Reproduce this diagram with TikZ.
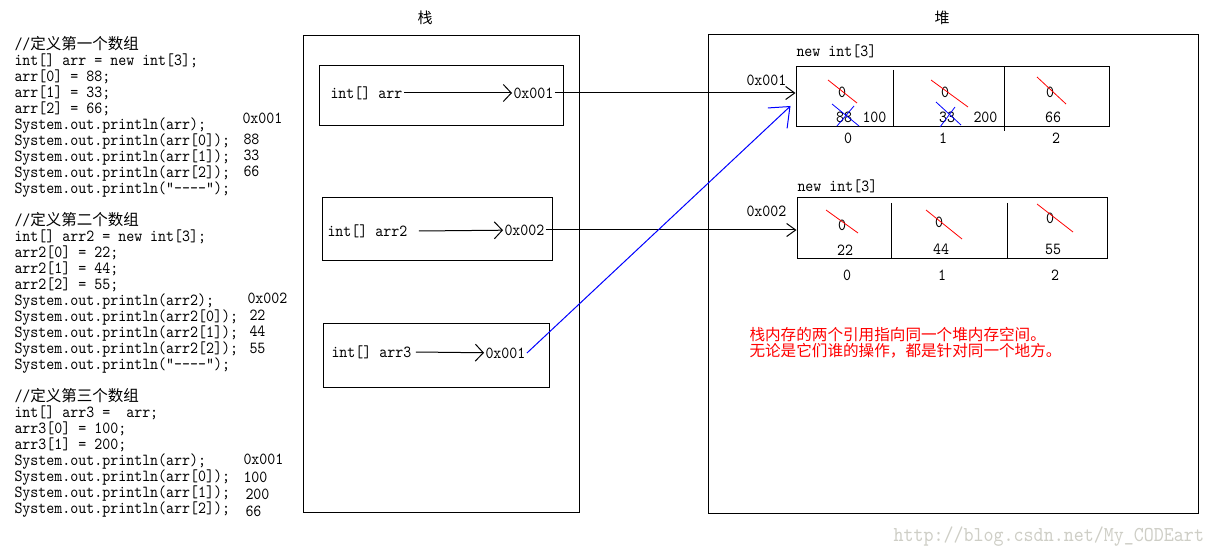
\documentclass[tikz,border=0pt]{standalone}
\usepackage{fontspec}
\setmonofont[FakeStretch=0.9]{lmmono10-regular.otf}
\newfontfamily\cjk{Noto Sans CJK SC}
\usetikzlibrary{arrows.meta,calc}
\definecolor{mark}{RGB}{206,206,198}

\tikzset{
  code/.style={font=\ttfamily\fontsize{16.9}{16}\selectfont,
    inner sep=0, align=left, anchor=north west},
  word/.style={font=\ttfamily\fontsize{16.9}{16}\selectfont, inner sep=1pt, anchor=west},
  title/.style={font=\cjk\fontsize{15}{16}\selectfont},
  ptr/.style={-{Straight Barb[length=8pt,width=17pt]}},
  link/.style={-{Straight Barb[length=9pt,width=13pt]}},
  slash/.style={red, line width=0.8pt},
  cross/.style={blue, line width=0.8pt}
}

\begin{document}
\begin{tikzpicture}[x=1pt, y=-1pt, line width=1pt]
\useasboundingbox (0,0) rectangle (1213,556);

% Code, first array
\node [code] (C1) at (14,36) {//{\cjk\fontsize{15.5}{16}\selectfont 定义第一个数组}\\
int[] arr = new int[3];\\
arr[0] = 88;\\
arr[1] = 33;\\
arr[2] = 66;\\
System.out.println(arr);\\
System.out.println(arr[0]);\\
System.out.println(arr[1]);\\
System.out.println(arr[2]);\\
System.out.println(“----”);};
\node [word] (O11) at (241,118) {0x001};
\node [word] (O12) at (242,139) {88};
\node [word] (O13) at (242,155) {33};
\node [word] (O14) at (242,171) {66};

% Code, second array
\node [code] (C2) at (14,212) {//{\cjk\fontsize{15.5}{16}\selectfont 定义第二个数组}\\
int[] arr2 = new int[3];\\
arr2[0] = 22;\\
arr2[1] = 44;\\
arr2[2] = 55;\\
System.out.println(arr2);\\
System.out.println(arr2[0]);\\
System.out.println(arr2[1]);\\
System.out.println(arr2[2]);\\
System.out.println(“----”);};
\node [word] (O21) at (246,298) {0x002};
\node [word] (O22) at (248,315) {22};
\node [word] (O23) at (248,331) {44};
\node [word] (O24) at (248,348) {55};

% Code, third array
\node [code] (C3) at (14,388) {//{\cjk\fontsize{15.5}{16}\selectfont 定义第三个数组}\\
int[] arr3 =\ \ arr;\\
arr3[0] = 100;\\
arr3[1] = 200;\\
System.out.println(arr);\\
System.out.println(arr[0]);\\
System.out.println(arr[1]);\\
System.out.println(arr[2]);};
\node [word] (O31) at (242,459) {0x001};
\node [word] (O32) at (242,477) {100};
\node [word] (O33) at (244,494) {200};
\node [word] (O34) at (244,511) {66};

% Stack
\node [title] (T1) at (425,18) {栈};
\node [draw,
    minimum width=276pt,
    minimum height=476pt] (S) at (441,274) {};

\node [draw, minimum width=244pt, minimum height=60pt] (F1) at (441,96) {};
\node [word] (R1) at (329,93) {int[] arr};
\node [word] (P1) at (512,93) {0x001};
\draw [ptr] (R1) -- (P1);

\node [draw, minimum width=230pt, minimum height=63pt] (F2) at (437,229.5) {};
\node [word] (R2) at (326,231) {int[] arr2};
\node [word] (P2) at (503,230) {0x002};
\draw [ptr] ([xshift=10pt]R2.east) -- (P2);

\node [draw, minimum width=226pt, minimum height=64pt] (F3) at (436,355) {};
\node [word] (R3) at (330,352) {int[] arr3};
\node [word] (P3) at (484,353) {0x001};
\draw [ptr] ([xshift=3pt]R3.east) -- (P3);

% Heap
\node [title] (T2) at (942,18) {堆};
\node [draw,
    minimum width=490pt,
    minimum height=478pt] (H) at (953,274) {};

% first array in heap
\node [word] (N1) at (795,51) {new int[3]};
\node [word] (A1) at (745,80) {0x001};
\node [draw, minimum width=313pt, minimum height=60pt] (M1) at (952.5,97) {};
\draw (893,70) -- (893,127);
\draw (1004,67) -- (1004,131);
\node [word, anchor=center] (Z11) at (842,92) {0};
\node [word, anchor=center] (Z12) at (945,92) {0};
\node [word, anchor=center] (Z13) at (1050,92) {0};
\draw [slash] (828,80) -- (857,103);
\draw [slash] (931,80) -- (968,107);
\draw [slash] (1037,77) -- (1066,104);
\node [word, anchor=center] (V11) at (844,117) {88};
\node [word] (V11b) at (861,117) {100};
\node [word, anchor=center] (V12) at (947,117) {33};
\node [word] (V12b) at (972,117) {200};
\node [word, anchor=center] (V13) at (1053,117) {66};
\draw [cross] (832,104) -- (859,126);
\draw [cross] (837,126) -- (854,106);
\draw [cross] (936,102) -- (961,125);
\draw [cross] (940,127) -- (955,107);
\node [word, anchor=center] (I11) at (848,138) {0};
\node [word, anchor=center] (I12) at (943,138) {1};
\node [word, anchor=center] (I13) at (1056,138) {2};

% second array in heap
\node [word] (N2) at (796,186) {new int[3]};
\node [word] (A2) at (745,211) {0x002};
\node [draw, minimum width=310pt, minimum height=61pt] (M2) at (952,228.5) {};
\draw (891,203) -- (891,259);
\draw (1007,203) -- (1007,259);
\node [word, anchor=center] (Z21) at (842,225) {0};
\node [word, anchor=center] (Z22) at (939,222) {0};
\node [word, anchor=center] (Z23) at (1050,218) {0};
\draw [slash] (826,210) -- (858,233);
\draw [slash] (926,210) -- (962,239);
\draw [slash] (1037,204) -- (1073,232);
\node [word, anchor=center] (V21) at (845,250) {22};
\node [word, anchor=center] (V22) at (941,249) {44};
\node [word, anchor=center] (V23) at (1053,249) {55};
\node [word, anchor=center] (I21) at (847,275) {0};
\node [word, anchor=center] (I22) at (942,275) {1};
\node [word, anchor=center] (I23) at (1055,275) {2};

% references
\draw [link] (P1) -- (P1 -| M1.west);
\draw [link] (P2) -- (P2 -| M2.west);
\draw [blue, -{Straight Barb[length=17pt,width=28pt]}] (P3.east) -- ($(M1.west)+(-5,9)$);

% note
\node [font=\cjk\fontsize{15.6}{16}\selectfont, text=red, align=left, anchor=west, inner sep=0]
  (NB) at (749,343) {栈内存的两个引用指向同一个堆内存空间。\\无论是它们谁的操作，都是针对同一个地方。};

\node [font=\ttfamily\fontsize{21.2}{22}\selectfont, text=mark, anchor=west, inner sep=0]
  (W) at (893,537) {http://blog.csdn.net/My\_CODEart};

\end{tikzpicture}
\end{document}
